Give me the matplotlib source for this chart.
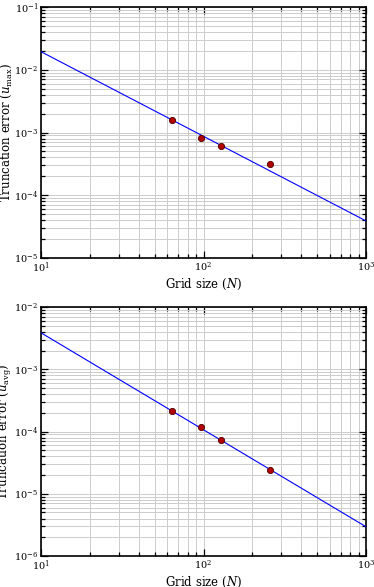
import matplotlib
matplotlib.use("Agg")
import matplotlib.pyplot as plt

plt.rcParams['font.family'] = 'serif'
plt.rcParams['font.serif'] = ['DejaVu Serif']
plt.rcParams['mathtext.fontset'] = 'dejavuserif'
plt.rcParams['font.size'] = 7

grid_sizes = [64, 96, 128, 256]
err_max = [1.6e-3, 8.3e-4, 6.2e-4, 3.2e-4]
err_avg = [2.16e-4, 1.18e-4, 7.4e-5, 2.45e-5]

# fitted lines, read at the axis ends
fit_x = [10, 1000]
fit_max = [1.94e-2, 3.9e-5]
fit_avg = [3.85e-3, 2.95e-6]

fig = plt.figure(figsize=(3.74, 5.87), dpi=100)
ax1 = fig.add_axes([41/374, 1 - 258/587, 325/374, 251/587])
ax2 = fig.add_axes([41/374, 1 - 556/587, 325/374, 249/587])

panels = [
    (ax1, err_max, fit_max, (1e-5, 1e-1), r'Truncation error ($u_{\max}$)'),
    (ax2, err_avg, fit_avg, (1e-6, 1e-2), r'Truncation error ($u_{\rm avg}$)'),
]

for ax, pts, fit, ylim, ylabel in panels:
    ax.set_xscale('log')
    ax.set_yscale('log')
    ax.plot(fit_x, fit, color='blue', lw=0.8, zorder=3)
    ax.plot(grid_sizes, pts, 'o', color='#b00000', mec='#500000', mew=0.6, ms=4.5, zorder=4)
    ax.set_xlim(10, 1000)
    ax.set_ylim(*ylim)
    ax.grid(True, which='both', color='#cccccc', lw=0.7)
    ax.set_axisbelow(True)
    ax.tick_params(which='both', direction='in', top=True, right=True,
                   labelsize=7, width=0.9, pad=2)
    ax.tick_params(which='major', length=5)
    ax.tick_params(which='minor', length=3)
    ax.set_xlabel('Grid size ($N$)', fontsize=8.5, labelpad=1)
    ax.set_ylabel(ylabel, fontsize=8.5, labelpad=0)
    for s in ax.spines.values():
        s.set_linewidth(1.2)

fig.savefig('out.png', dpi=100)
